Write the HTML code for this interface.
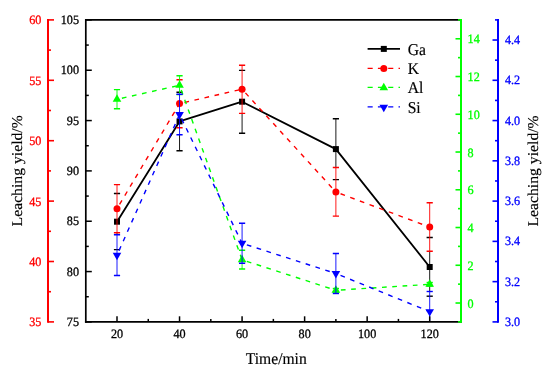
<!DOCTYPE html>
<html><head><meta charset="utf-8"><title>Leaching yield chart</title>
<style>html,body{margin:0;padding:0;background:#fff;width:550px;height:374px;overflow:hidden}svg{display:block}</style>
</head><body>
<svg width="550" height="374" viewBox="0 0 550 374" text-rendering="geometricPrecision">
<defs><clipPath id="c"><rect x="85.80" y="19.90" width="375.20" height="302.00"/></clipPath></defs>
<rect width="550" height="374" fill="#fff"/>
<g clip-path="url(#c)">
<polyline points="117.00,221.70 179.54,121.40 242.08,101.70 335.89,149.10 429.70,267.00" fill="none" stroke="#000000" stroke-width="1.8" stroke-linejoin="round"/>
<rect x="114.00" y="218.70" width="6" height="6" fill="#000"/>
<rect x="176.54" y="118.40" width="6" height="6" fill="#000"/>
<rect x="239.08" y="98.70" width="6" height="6" fill="#000"/>
<rect x="332.89" y="146.10" width="6" height="6" fill="#000"/>
<rect x="426.70" y="264.00" width="6" height="6" fill="#000"/>
<g stroke="#000000" stroke-width="0.9" fill="none"><line x1="117.00" y1="232.80" x2="117.00" y2="234.70"/><line x1="113.90" y1="193.50" x2="120.10" y2="193.50" stroke-width="1.4"/><line x1="113.90" y1="249.60" x2="120.10" y2="249.60" stroke-width="1.4"/></g>
<g stroke="#000000" stroke-width="0.9" fill="none"><line x1="179.54" y1="134.70" x2="179.54" y2="150.70"/><line x1="176.44" y1="92.20" x2="182.64" y2="92.20" stroke-width="1.4"/><line x1="176.44" y1="150.70" x2="182.64" y2="150.70" stroke-width="1.4"/></g>
<g stroke="#000000" stroke-width="0.9" fill="none"><line x1="242.08" y1="113.40" x2="242.08" y2="133.20"/><line x1="238.98" y1="70.40" x2="245.18" y2="70.40" stroke-width="1.4"/><line x1="238.98" y1="133.20" x2="245.18" y2="133.20" stroke-width="1.4"/></g>
<g stroke="#000000" stroke-width="0.9" fill="none"><line x1="335.89" y1="118.70" x2="335.89" y2="167.50"/><line x1="332.79" y1="118.70" x2="338.99" y2="118.70" stroke-width="1.4"/><line x1="332.79" y1="179.60" x2="338.99" y2="179.60" stroke-width="1.4"/></g>
<g stroke="#000000" stroke-width="0.9" fill="none"><line x1="429.70" y1="251.30" x2="429.70" y2="282.50"/><line x1="429.70" y1="286.00" x2="429.70" y2="291.50"/><line x1="426.60" y1="237.50" x2="432.80" y2="237.50" stroke-width="1.4"/><line x1="426.60" y1="296.20" x2="432.80" y2="296.20" stroke-width="1.4"/></g>
<path d="M117.00 208.70 L179.54 103.60M179.54 103.60 L242.08 89.20M242.08 89.20 L335.89 192.00M335.89 192.00 L429.70 227.10" fill="none" stroke="#ff0000" stroke-width="1.4" stroke-dasharray="4.7 5.6" stroke-dashoffset="5.3"/>
<circle cx="117.00" cy="208.70" r="3.5" fill="#ff0000"/>
<circle cx="179.54" cy="103.60" r="3.5" fill="#ff0000"/>
<circle cx="242.08" cy="89.20" r="3.5" fill="#ff0000"/>
<circle cx="335.89" cy="192.00" r="3.5" fill="#ff0000"/>
<circle cx="429.70" cy="227.10" r="3.5" fill="#ff0000"/>
<g stroke="#ff0000" stroke-width="0.9" fill="none"><line x1="117.00" y1="184.60" x2="117.00" y2="232.80"/><line x1="113.90" y1="184.60" x2="120.10" y2="184.60" stroke-width="1.4"/><line x1="113.90" y1="232.80" x2="120.10" y2="232.80" stroke-width="1.4"/></g>
<g stroke="#ff0000" stroke-width="0.9" fill="none"><line x1="176.44" y1="79.80" x2="182.64" y2="79.80" stroke-width="1.4"/><line x1="176.44" y1="127.70" x2="182.64" y2="127.70" stroke-width="1.4"/></g>
<g stroke="#ff0000" stroke-width="0.9" fill="none"><line x1="242.08" y1="65.30" x2="242.08" y2="113.40"/><line x1="238.98" y1="65.30" x2="245.18" y2="65.30" stroke-width="1.4"/><line x1="238.98" y1="113.40" x2="245.18" y2="113.40" stroke-width="1.4"/></g>
<g stroke="#ff0000" stroke-width="0.9" fill="none"><line x1="335.89" y1="167.50" x2="335.89" y2="216.10"/><line x1="332.79" y1="167.50" x2="338.99" y2="167.50" stroke-width="1.4"/><line x1="332.79" y1="216.10" x2="338.99" y2="216.10" stroke-width="1.4"/></g>
<g stroke="#ff0000" stroke-width="0.9" fill="none"><line x1="429.70" y1="202.80" x2="429.70" y2="251.30"/><line x1="426.60" y1="202.80" x2="432.80" y2="202.80" stroke-width="1.4"/><line x1="426.60" y1="251.30" x2="432.80" y2="251.30" stroke-width="1.4"/></g>
<path d="M117.00 99.30 L179.54 85.30M179.54 85.30 L242.08 259.80M242.08 259.80 L335.89 290.30M335.89 290.30 L429.70 284.30" fill="none" stroke="#00ff00" stroke-width="1.4" stroke-dasharray="4.7 5.6" stroke-dashoffset="5.3"/>
<polygon points="117.00,94.37 112.70,101.77 121.30,101.77" fill="#00ff00"/>
<polygon points="179.54,80.37 175.24,87.77 183.84,87.77" fill="#00ff00"/>
<polygon points="242.08,254.87 237.78,262.27 246.38,262.27" fill="#00ff00"/>
<polygon points="335.89,285.37 331.59,292.77 340.19,292.77" fill="#00ff00"/>
<polygon points="429.70,279.37 425.40,286.77 434.00,286.77" fill="#00ff00"/>
<g stroke="#00ff00" stroke-width="0.9" fill="none"><line x1="117.00" y1="89.60" x2="117.00" y2="108.80"/><line x1="113.90" y1="89.60" x2="120.10" y2="89.60" stroke-width="1.4"/><line x1="113.90" y1="108.80" x2="120.10" y2="108.80" stroke-width="1.4"/></g>
<g stroke="#00ff00" stroke-width="0.9" fill="none"><line x1="179.54" y1="75.80" x2="179.54" y2="94.30"/><line x1="176.44" y1="75.80" x2="182.64" y2="75.80" stroke-width="1.4"/><line x1="176.44" y1="94.60" x2="182.64" y2="94.60" stroke-width="1.4"/></g>
<g stroke="#00ff00" stroke-width="0.9" fill="none"><line x1="242.08" y1="263.30" x2="242.08" y2="269.00"/><line x1="238.98" y1="250.30" x2="245.18" y2="250.30" stroke-width="1.4"/><line x1="238.98" y1="269.00" x2="245.18" y2="269.00" stroke-width="1.4"/></g>
<g stroke="#00ff00" stroke-width="0.9" fill="none"><line x1="332.79" y1="288.50" x2="338.99" y2="288.50" stroke-width="1.4"/><line x1="332.79" y1="292.00" x2="338.99" y2="292.00" stroke-width="1.4"/></g>
<g stroke="#00ff00" stroke-width="0.9" fill="none"><line x1="429.70" y1="282.50" x2="429.70" y2="286.00"/><line x1="426.60" y1="282.50" x2="432.80" y2="282.50" stroke-width="1.4"/><line x1="426.60" y1="286.00" x2="432.80" y2="286.00" stroke-width="1.4"/></g>
<path d="M117.00 255.20 L179.54 114.50M179.54 114.50 L242.08 243.30M242.08 243.30 L335.89 273.50M335.89 273.50 L429.70 311.60" fill="none" stroke="#0000ff" stroke-width="1.4" stroke-dasharray="4.7 5.6" stroke-dashoffset="5.3"/>
<polygon points="117.00,260.13 112.70,252.73 121.30,252.73" fill="#0000ff"/>
<polygon points="179.54,119.43 175.24,112.03 183.84,112.03" fill="#0000ff"/>
<polygon points="242.08,248.23 237.78,240.83 246.38,240.83" fill="#0000ff"/>
<polygon points="335.89,278.43 331.59,271.03 340.19,271.03" fill="#0000ff"/>
<polygon points="429.70,316.53 425.40,309.13 434.00,309.13" fill="#0000ff"/>
<g stroke="#0000ff" stroke-width="0.9" fill="none"><line x1="117.00" y1="234.70" x2="117.00" y2="275.50"/><line x1="113.90" y1="234.70" x2="120.10" y2="234.70" stroke-width="1.4"/><line x1="113.90" y1="275.50" x2="120.10" y2="275.50" stroke-width="1.4"/></g>
<g stroke="#0000ff" stroke-width="0.9" fill="none"><line x1="179.54" y1="94.30" x2="179.54" y2="134.70"/><line x1="176.44" y1="94.30" x2="182.64" y2="94.30" stroke-width="1.4"/><line x1="176.44" y1="134.70" x2="182.64" y2="134.70" stroke-width="1.4"/></g>
<g stroke="#0000ff" stroke-width="0.9" fill="none"><line x1="242.08" y1="223.30" x2="242.08" y2="263.30"/><line x1="238.98" y1="223.30" x2="245.18" y2="223.30" stroke-width="1.4"/><line x1="238.98" y1="263.30" x2="245.18" y2="263.30" stroke-width="1.4"/></g>
<g stroke="#0000ff" stroke-width="0.9" fill="none"><line x1="335.89" y1="253.50" x2="335.89" y2="293.50"/><line x1="332.79" y1="253.50" x2="338.99" y2="253.50" stroke-width="1.4"/><line x1="332.79" y1="293.50" x2="338.99" y2="293.50" stroke-width="1.4"/></g>
<g stroke="#0000ff" stroke-width="0.9" fill="none"><line x1="429.70" y1="291.50" x2="429.70" y2="331.70"/><line x1="426.60" y1="291.50" x2="432.80" y2="291.50" stroke-width="1.4"/><line x1="426.60" y1="331.70" x2="432.80" y2="331.70" stroke-width="1.4"/></g>
</g>
<g stroke="#000" stroke-width="1.7" fill="none" stroke-linecap="square">
<polyline points="85.80,321.90 85.80,19.90 461.00,19.90"/>
<line x1="85.80" y1="321.90" x2="461.00" y2="321.90"/>
</g>
<g stroke="#000" stroke-width="1.5"><line x1="85.80" y1="321.90" x2="91.80" y2="321.90"/><line x1="85.80" y1="296.73" x2="88.80" y2="296.73"/><line x1="85.80" y1="271.57" x2="91.80" y2="271.57"/><line x1="85.80" y1="246.40" x2="88.80" y2="246.40"/><line x1="85.80" y1="221.23" x2="91.80" y2="221.23"/><line x1="85.80" y1="196.07" x2="88.80" y2="196.07"/><line x1="85.80" y1="170.90" x2="91.80" y2="170.90"/><line x1="85.80" y1="145.73" x2="88.80" y2="145.73"/><line x1="85.80" y1="120.57" x2="91.80" y2="120.57"/><line x1="85.80" y1="95.40" x2="88.80" y2="95.40"/><line x1="85.80" y1="70.23" x2="91.80" y2="70.23"/><line x1="85.80" y1="45.07" x2="88.80" y2="45.07"/><line x1="85.80" y1="19.90" x2="91.80" y2="19.90"/><line x1="117.00" y1="321.90" x2="117.00" y2="316.30"/><line x1="148.27" y1="321.90" x2="148.27" y2="318.90"/><line x1="179.54" y1="321.90" x2="179.54" y2="316.30"/><line x1="210.81" y1="321.90" x2="210.81" y2="318.90"/><line x1="242.08" y1="321.90" x2="242.08" y2="316.30"/><line x1="273.35" y1="321.90" x2="273.35" y2="318.90"/><line x1="304.62" y1="321.90" x2="304.62" y2="316.30"/><line x1="335.89" y1="321.90" x2="335.89" y2="318.90"/><line x1="367.16" y1="321.90" x2="367.16" y2="316.30"/><line x1="398.43" y1="321.90" x2="398.43" y2="318.90"/><line x1="429.70" y1="321.90" x2="429.70" y2="316.30"/></g>
<g font-family="Liberation Serif, Times New Roman, serif" font-size="12.8" fill="#000" stroke="#000" stroke-width="0.3" text-anchor="end"><text transform="translate(79.00,326.00) scale(0.95,1)">75</text><text transform="translate(79.00,275.67) scale(0.95,1)">80</text><text transform="translate(79.00,225.33) scale(0.95,1)">85</text><text transform="translate(79.00,175.00) scale(0.95,1)">90</text><text transform="translate(79.00,124.67) scale(0.95,1)">95</text><text transform="translate(79.00,74.33) scale(0.95,1)">100</text><text transform="translate(79.00,24.00) scale(0.95,1)">105</text></g>
<g font-family="Liberation Serif, Times New Roman, serif" font-size="12.8" fill="#000" stroke="#000" stroke-width="0.3" text-anchor="middle"><text transform="translate(117.00,337.80) scale(0.95,1)">20</text><text transform="translate(179.54,337.80) scale(0.95,1)">40</text><text transform="translate(242.08,337.80) scale(0.95,1)">60</text><text transform="translate(304.62,337.80) scale(0.95,1)">80</text><text transform="translate(367.16,337.80) scale(0.95,1)">100</text><text transform="translate(429.70,337.80) scale(0.95,1)">120</text></g>
<g stroke="#ff0000" stroke-width="2.0"><line x1="48.00" y1="19.10" x2="48.00" y2="322.70"/><line x1="48.00" y1="321.90" x2="54.00" y2="321.90" stroke-width="1.6"/><line x1="48.00" y1="291.70" x2="51.00" y2="291.70" stroke-width="1.6"/><line x1="48.00" y1="261.50" x2="54.00" y2="261.50" stroke-width="1.6"/><line x1="48.00" y1="231.30" x2="51.00" y2="231.30" stroke-width="1.6"/><line x1="48.00" y1="201.10" x2="54.00" y2="201.10" stroke-width="1.6"/><line x1="48.00" y1="170.90" x2="51.00" y2="170.90" stroke-width="1.6"/><line x1="48.00" y1="140.70" x2="54.00" y2="140.70" stroke-width="1.6"/><line x1="48.00" y1="110.50" x2="51.00" y2="110.50" stroke-width="1.6"/><line x1="48.00" y1="80.30" x2="54.00" y2="80.30" stroke-width="1.6"/><line x1="48.00" y1="50.10" x2="51.00" y2="50.10" stroke-width="1.6"/><line x1="48.00" y1="19.90" x2="54.00" y2="19.90" stroke-width="1.6"/></g>
<g font-family="Liberation Serif, Times New Roman, serif" font-size="12.8" fill="#ff0000" stroke="#ff0000" stroke-width="0.3" text-anchor="end"><text transform="translate(41.40,326.40) scale(0.95,1)">35</text><text transform="translate(41.40,266.00) scale(0.95,1)">40</text><text transform="translate(41.40,205.60) scale(0.95,1)">45</text><text transform="translate(41.40,145.20) scale(0.95,1)">50</text><text transform="translate(41.40,84.80) scale(0.95,1)">55</text><text transform="translate(41.40,24.40) scale(0.95,1)">60</text></g>
<g stroke="#00ff00" stroke-width="2.0"><line x1="461.00" y1="19.10" x2="461.00" y2="322.70"/><line x1="461.00" y1="321.90" x2="458.00" y2="321.90" stroke-width="1.6"/><line x1="461.00" y1="303.02" x2="455.50" y2="303.02" stroke-width="1.6"/><line x1="461.00" y1="284.15" x2="458.00" y2="284.15" stroke-width="1.6"/><line x1="461.00" y1="265.27" x2="455.50" y2="265.27" stroke-width="1.6"/><line x1="461.00" y1="246.40" x2="458.00" y2="246.40" stroke-width="1.6"/><line x1="461.00" y1="227.52" x2="455.50" y2="227.52" stroke-width="1.6"/><line x1="461.00" y1="208.65" x2="458.00" y2="208.65" stroke-width="1.6"/><line x1="461.00" y1="189.77" x2="455.50" y2="189.77" stroke-width="1.6"/><line x1="461.00" y1="170.90" x2="458.00" y2="170.90" stroke-width="1.6"/><line x1="461.00" y1="152.02" x2="455.50" y2="152.02" stroke-width="1.6"/><line x1="461.00" y1="133.15" x2="458.00" y2="133.15" stroke-width="1.6"/><line x1="461.00" y1="114.27" x2="455.50" y2="114.27" stroke-width="1.6"/><line x1="461.00" y1="95.40" x2="458.00" y2="95.40" stroke-width="1.6"/><line x1="461.00" y1="76.52" x2="455.50" y2="76.52" stroke-width="1.6"/><line x1="461.00" y1="57.65" x2="458.00" y2="57.65" stroke-width="1.6"/><line x1="461.00" y1="38.77" x2="455.50" y2="38.77" stroke-width="1.6"/><line x1="461.00" y1="19.90" x2="458.00" y2="19.90" stroke-width="1.6"/></g>
<g font-family="Liberation Serif, Times New Roman, serif" font-size="12.8" fill="#00ff00" stroke="#00ff00" stroke-width="0.3" text-anchor="start"><text transform="translate(467.60,307.73) scale(0.95,1)">0</text><text transform="translate(467.60,269.98) scale(0.95,1)">2</text><text transform="translate(467.60,232.22) scale(0.95,1)">4</text><text transform="translate(467.60,194.47) scale(0.95,1)">6</text><text transform="translate(467.60,156.72) scale(0.95,1)">8</text><text transform="translate(467.60,118.97) scale(0.95,1)">10</text><text transform="translate(467.60,81.22) scale(0.95,1)">12</text><text transform="translate(467.60,43.47) scale(0.95,1)">14</text></g>
<g stroke="#0000ff" stroke-width="2.0"><line x1="498.00" y1="19.10" x2="498.00" y2="322.70"/><line x1="498.00" y1="321.90" x2="492.50" y2="321.90" stroke-width="1.6"/><line x1="498.00" y1="301.77" x2="495.00" y2="301.77" stroke-width="1.6"/><line x1="498.00" y1="281.63" x2="492.50" y2="281.63" stroke-width="1.6"/><line x1="498.00" y1="261.50" x2="495.00" y2="261.50" stroke-width="1.6"/><line x1="498.00" y1="241.37" x2="492.50" y2="241.37" stroke-width="1.6"/><line x1="498.00" y1="221.23" x2="495.00" y2="221.23" stroke-width="1.6"/><line x1="498.00" y1="201.10" x2="492.50" y2="201.10" stroke-width="1.6"/><line x1="498.00" y1="180.97" x2="495.00" y2="180.97" stroke-width="1.6"/><line x1="498.00" y1="160.83" x2="492.50" y2="160.83" stroke-width="1.6"/><line x1="498.00" y1="140.70" x2="495.00" y2="140.70" stroke-width="1.6"/><line x1="498.00" y1="120.57" x2="492.50" y2="120.57" stroke-width="1.6"/><line x1="498.00" y1="100.43" x2="495.00" y2="100.43" stroke-width="1.6"/><line x1="498.00" y1="80.30" x2="492.50" y2="80.30" stroke-width="1.6"/><line x1="498.00" y1="60.17" x2="495.00" y2="60.17" stroke-width="1.6"/><line x1="498.00" y1="40.03" x2="492.50" y2="40.03" stroke-width="1.6"/><line x1="498.00" y1="19.90" x2="495.00" y2="19.90" stroke-width="1.6"/></g>
<g font-family="Liberation Serif, Times New Roman, serif" font-size="12.8" fill="#0000ff" stroke="#0000ff" stroke-width="0.3" text-anchor="start"><text transform="translate(505.00,326.00) scale(0.95,1)">3.0</text><text transform="translate(505.00,285.73) scale(0.95,1)">3.2</text><text transform="translate(505.00,245.47) scale(0.95,1)">3.4</text><text transform="translate(505.00,205.20) scale(0.95,1)">3.6</text><text transform="translate(505.00,164.93) scale(0.95,1)">3.8</text><text transform="translate(505.00,124.67) scale(0.95,1)">4.0</text><text transform="translate(505.00,84.40) scale(0.95,1)">4.2</text><text transform="translate(505.00,44.13) scale(0.95,1)">4.4</text></g>
<text font-family="Liberation Serif, Times New Roman, serif" font-size="15.0" fill="#000" stroke="#000" stroke-width="0.15" transform="translate(22.4,226.4) rotate(-90) scale(1.047,1)">Leaching yield/%</text>
<text font-family="Liberation Serif, Times New Roman, serif" font-size="15.0" fill="#000" stroke="#000" stroke-width="0.15" transform="translate(538.0,226.5) rotate(-90) scale(1.047,1)">Leaching yield/%</text>
<g font-family="Liberation Serif, Times New Roman, serif" font-size="15.6" fill="#000" stroke="#000" stroke-width="0.15"><text transform="translate(245.80,363.80) scale(1,1.055)">Time/min</text></g>
<line x1="367.60" y1="48.90" x2="400.00" y2="48.90" stroke="#000" stroke-width="1.8"/>
<rect x="380.80" y="45.90" width="6" height="6" fill="#000"/>
<line x1="367.60" y1="68.45" x2="400.00" y2="68.45" stroke="#ff0000" stroke-width="1.3" stroke-dasharray="5.1 5.2"/>
<circle cx="383.80" cy="68.45" r="3.5" fill="#ff0000"/>
<line x1="367.60" y1="87.40" x2="400.00" y2="87.40" stroke="#00ff00" stroke-width="1.3" stroke-dasharray="5.1 5.2"/>
<polygon points="383.80,82.77 379.50,90.17 388.10,90.17" fill="#00ff00"/>
<line x1="367.60" y1="106.90" x2="400.00" y2="106.90" stroke="#0000ff" stroke-width="1.3" stroke-dasharray="5.1 5.2"/>
<polygon points="383.80,112.13 379.50,104.73 388.10,104.73" fill="#0000ff"/>
<g font-family="Liberation Serif, Times New Roman, serif" font-size="15.6" fill="#000" stroke="#000" stroke-width="0.15"><text transform="translate(407.70,54.60) scale(1,1.055)">Ga</text><text transform="translate(407.70,73.80) scale(1,1.055)">K</text><text transform="translate(407.70,93.10) scale(1,1.055)">Al</text><text transform="translate(407.70,112.60) scale(1,1.055)">Si</text></g>
</svg>
</body></html>
